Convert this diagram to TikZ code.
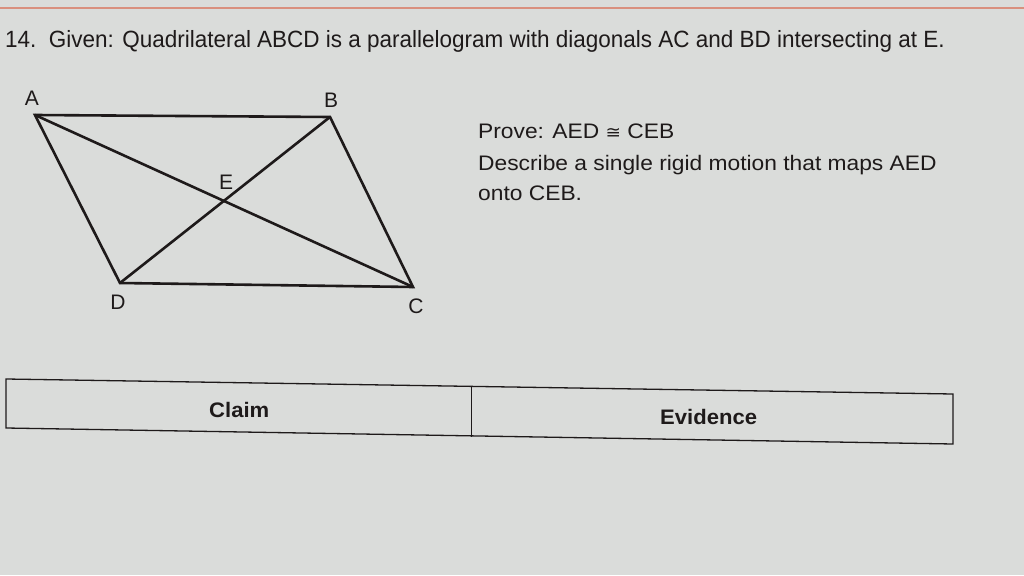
\documentclass[tikz,border=0pt]{standalone}
\usepackage{fontspec}
\setmainfont{Liberation Sans}
\newfontfamily\mathsym{DejaVu Sans}
\usepackage{tikz}
\usetikzlibrary{calc}
\usetikzlibrary{positioning}
\definecolor{screen}{HTML}{DADCDA}
\definecolor{edgered}{HTML}{D9907E}
\definecolor{ink}{HTML}{1E1A1A}

\begin{document}
\begin{tikzpicture}[x=1pt, y=-1pt,
  side/.style={draw=ink, line width=2.6pt, line cap=round},
  vlabel/.style={font=\fontsize{21}{23}\selectfont, text=ink, inner sep=0pt},
  prose/.style={font=\fontsize{21}{24}\selectfont, text=ink, anchor=base west, inner sep=0pt},
  cell/.style={draw=ink, line width=1.3pt}]
\fill [screen] (0,0) rectangle (1024,575);
\useasboundingbox (0,0) rectangle (1024,575);
\draw [edgered, line width=2.5pt] (0,8) -- (1024,8);
\node [prose, font=\fontsize{23.5}{26}\selectfont] (given) at (5,48) {\scalebox{0.957}[1]{14.\ \ Given: Quadrilateral ABCD is a parallelogram with diagonals AC and BD intersecting at E.}};
\coordinate (A) at (35,115);
\coordinate (B) at (330,117);
\coordinate (C) at (413,287);
\coordinate (D) at (120,283);
\coordinate (E) at (intersection of A--C and B--D);
\draw [side] (A) -- (B) -- (C) -- (D) -- cycle;
\draw [side] (A) -- (C);
\draw [side] (B) -- (D);
\node [vlabel] (lA) at (32,98) {A};
\node [vlabel] (lB) at (331,100) {B};
\node [vlabel] (lE) at (226,182) {E};
\node [vlabel] (lD) at (118,302) {D};
\node [vlabel] (lC) at (416,306) {C};
\node [prose] (prove) at (478,139) {\scalebox{1.085}[1]{Prove: AED {\mathsym\fontsize{17}{20}\selectfont ≅} CEB}};
\node [prose] (describe) at (478,170) {\scalebox{1.085}[1]{Describe a single rigid motion that maps AED}};
\node [prose] (onto) at (478,200) {\scalebox{1.085}[1]{onto CEB.}};
\coordinate (tl) at (6,379);
\coordinate (tr) at (953,394);
\coordinate (br) at (953,444);
\coordinate (bl) at (6,428);
\coordinate (mt) at (471,387);
\coordinate (mb) at (471,437);
\draw [cell] (tl) -- (tr) -- (br) -- (bl) -- cycle;
\draw [cell, line width=0.9pt] (mt) -- (mb);
\node [prose, font=\bfseries\fontsize{21}{23}\selectfont] (claim) at (209,417) {\scalebox{1.05}[1]{Claim}};
\node [prose, font=\bfseries\fontsize{21}{23}\selectfont] (evidence) at (660,424) {\scalebox{1.05}[1]{Evidence}};
\end{tikzpicture}
\end{document}
